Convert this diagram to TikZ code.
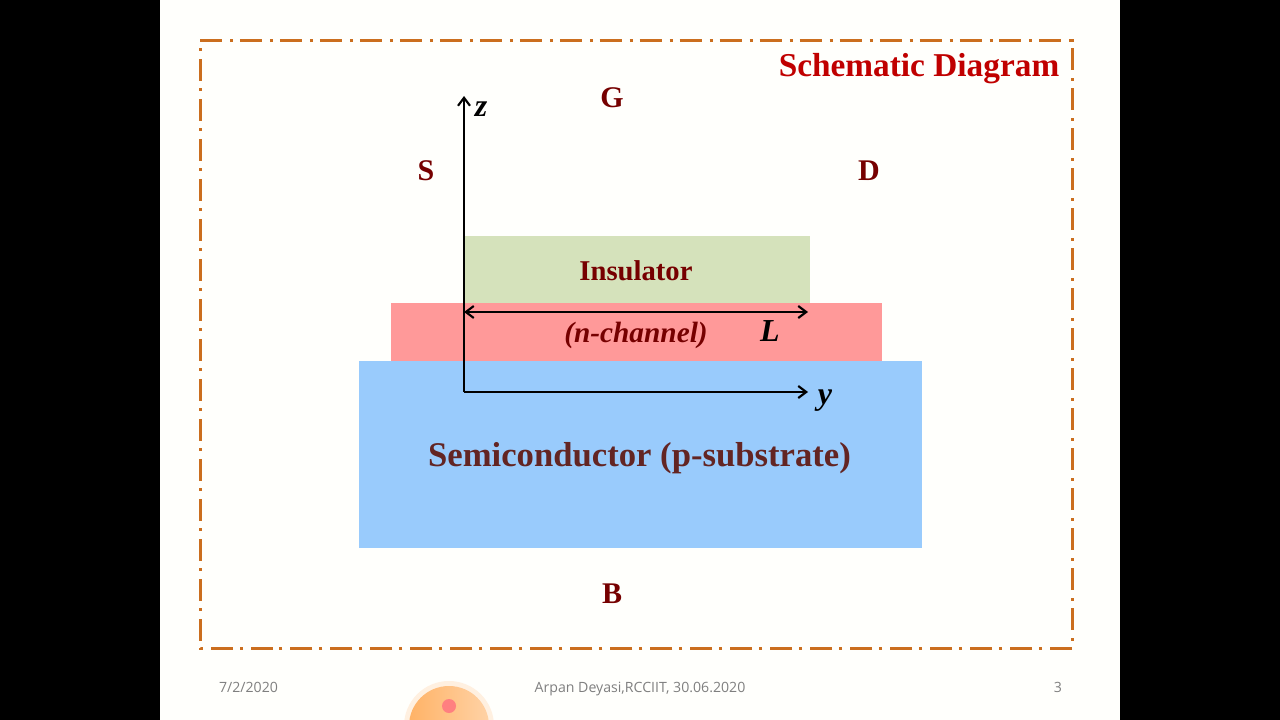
\documentclass[tikz,border=0pt]{standalone}
\usepackage{fontspec}
\usetikzlibrary{arrows.meta}
\setmainfont{Liberation Serif}
\newfontfamily\footfont{Open Sans}
\definecolor{framecol}{HTML}{CB6E1E}
\definecolor{titlecol}{HTML}{C00000}
\definecolor{termcol}{HTML}{760000}
\definecolor{semicol}{HTML}{632523}
\definecolor{insulcol}{HTML}{D5E2BB}
\definecolor{chancol}{HTML}{FF9999}
\definecolor{subcol}{HTML}{99CBFC}
\definecolor{footcol}{HTML}{7F7F7F}
\tikzstyle{slab} = [inner sep=0pt, outer sep=0pt]
\tikzstyle{terminal} = [font=\fontsize{22.5}{26}\selectfont\bfseries, text=termcol, inner sep=0pt]
\tikzstyle{axislabel} = [font=\fontsize{24}{28}\selectfont\bfseries\itshape, text=black, inner sep=0pt]
\tikzstyle{axis} = [draw, line width=1.6pt, ->, >={Straight Barb[length=6pt,width=9pt]}]
\tikzstyle{border} = [draw=framecol, line width=2.25pt, dash pattern=on 16.5pt off 6pt on 2.25pt off 5.23pt]
\tikzstyle{footer} = [font=\footfont\fontsize{10.6}{13}\selectfont, text=footcol, inner sep=0pt]

\begin{document}
\begin{tikzpicture}[x=0.75pt, y=-0.75pt]
       \useasboundingbox (0,0) rectangle (1280,720);
       \clip (0,0) rectangle (1280,720);
       \fill[black] (0,0) rectangle (1280,720);
       \fill[white!99!yellow] (160,0) rectangle (1120,720);

       % outer frame
       \coordinate (tl) at (200,41);
       \coordinate (tr) at (1072,41);
       \coordinate (br) at (1072,648);
       \coordinate (bl) at (200,648);
       \draw[border] (tl) -- (tr) -- (br) -- (bl) -- cycle;

       % device layers
       \node[slab, fill=insulcol, minimum width=259.5pt, minimum height=50.25pt] (insulator) at (637,269.5) {};
       \node[slab, fill=chancol, minimum width=368.25pt, minimum height=43.5pt] (channel) at (636.5,332) {};
       \node[slab, fill=subcol, minimum width=422.25pt, minimum height=140.25pt] (substrate) at (640.5,454.5) {};

       \node[font=\fontsize{21.5}{25}\selectfont\bfseries, text=termcol, inner sep=0pt] (insulatortext) at (636,271) {Insulator};
       \node[font=\fontsize{22}{26}\selectfont\bfseries\itshape, text=termcol, inner sep=0pt] (channeltext) at (636,335) {(n-channel)};
       \node[font=\fontsize{26}{30}\selectfont\bfseries, text=semicol, inner sep=0pt] (substratetext) at (639.5,458) {Semiconductor (p-substrate)};
       \node[font=\fontsize{25}{28}\selectfont\bfseries, text=titlecol, inner sep=0pt] (title) at (919,69) {Schematic Diagram};

       \foreach \pos/\name in {{(426,171)/S}, {(612,98)/G}, {(869,171)/D}, {(612,594)/B}} {
           \node[terminal] (\name) at \pos {\name};
       }

       % axes
       \coordinate (origin) at (464,392);
       \coordinate (ztip) at (464,96);
       \coordinate (ytip) at (808,392);
       \coordinate (lstart) at (464,312);
       \coordinate (lend) at (808,312);
       \path[axis] (origin) -- (ztip);
       \path[axis] (origin) -- (ytip);
       \path[axis, <->] (lstart) -- (lend);
       \foreach \pos/\name/\txt in {{(481,109)/zlabel/z}, {(825,401)/ylabel/y}, {(770,331)/llabel/L}} {
           \node[axislabel] (\name) at \pos {\txt};
       }

       % footer
       \node[footer] (date) at (248.5,687) {7/2/2020};
       \node[footer] (credit) at (640,689) {Arpan Deyasi,RCCIIT, 30.06.2020};
       \node[footer] (page) at (1058,687) {3};

       % pointer mark
       \fill[orange!12] (449,726) circle (33.75pt);
       \shade[left color=orange!60!white, right color=orange!35!white] (449,726) circle (30pt);
       \fill[red!50!white] (449,706) circle (5.25pt);
\end{tikzpicture}
\end{document}
